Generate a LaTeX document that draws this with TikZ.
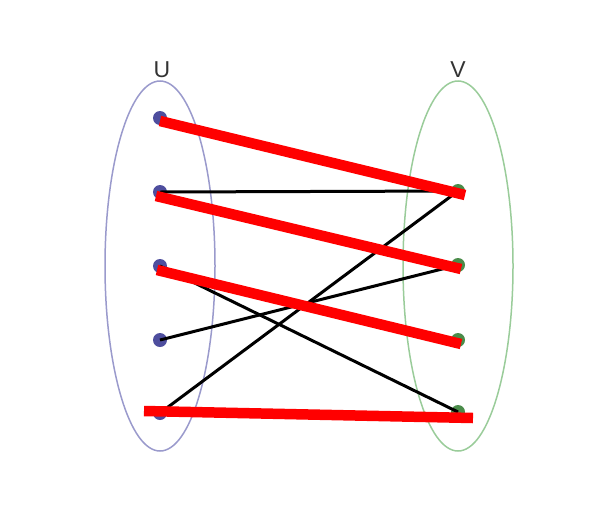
\documentclass[tikz,border=0pt]{standalone}
\usepackage{fontspec}
\setmainfont{Liberation Sans}
\definecolor{uell}{HTML}{9A9ACC}
\definecolor{vell}{HTML}{9ACC9A}
\definecolor{udot}{HTML}{4E4E9E}
\definecolor{vdot}{HTML}{4A8C4A}
\definecolor{lbl}{HTML}{333333}
\begin{document}
\begin{tikzpicture}[x=1pt,y=-1pt,
  ellU/.style={draw=uell,line width=1.5pt},
  ellV/.style={draw=vell,line width=1.5pt},
  udotst/.style={circle,fill=udot,inner sep=0pt,minimum size=14pt},
  vdotst/.style={circle,fill=vdot,inner sep=0pt,minimum size=14pt},
  edge/.style={draw=black,line width=3pt},
  match/.style={draw=red,line width=10.5pt},
  lab/.style={text=lbl,font=\fontsize{23}{25}\selectfont,inner sep=0pt}]
\useasboundingbox (0,0) rectangle (612,525);
\draw[ellU] (160,266) ellipse [x radius=55, y radius=185];
\draw[ellV] (458,266) ellipse [x radius=55, y radius=185];
\node[lab] (lu) at (162,70) {U};
\node[lab] (lv) at (458,70) {V};
\node[udotst] (u1) at (160,118) {};
\node[udotst] (u2) at (160,192) {};
\node[udotst] (u3) at (160,266) {};
\node[udotst] (u4) at (160,340) {};
\node[udotst] (u5) at (160,413) {};
\node[vdotst] (v1) at (458,191) {};
\node[vdotst] (v2) at (458,265) {};
\node[vdotst] (v3) at (458,340) {};
\node[vdotst] (v4) at (458,412) {};
\draw[edge] (u2.center) -- (v1.center);
\draw[edge] (v1.center) -- (u5.center);
\draw[edge] (u4.center) -- (v2.center);
\draw[edge] (u3.center) -- (v4.center);
\coordinate (r1a) at (160,121);
\coordinate (r1b) at (465,195);
\coordinate (r2a) at (156,196);
\coordinate (r2b) at (461,269);
\coordinate (r3a) at (157,270);
\coordinate (r3b) at (461,344);
\coordinate (r4a) at (144,411);
\coordinate (r4b) at (473,418);
\draw[match] (r1a) -- (r1b);
\draw[match] (r2a) -- (r2b);
\draw[match] (r3a) -- (r3b);
\draw[match] (r4a) -- (r4b);
\end{tikzpicture}
\end{document}
